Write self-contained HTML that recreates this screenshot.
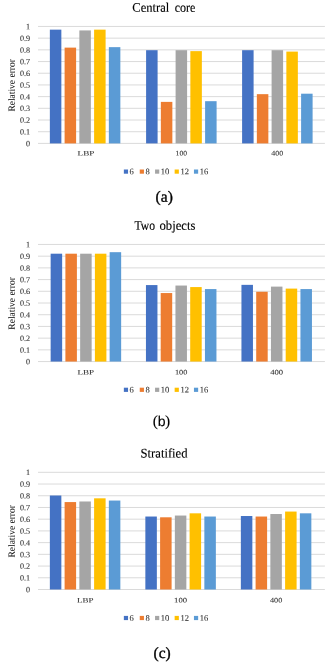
<!DOCTYPE html>
<html><head><meta charset="utf-8"><title>Relative error charts</title>
<style>
html,body{margin:0;padding:0;background:#fff;}
svg{display:block;font-family:"Liberation Serif","DejaVu Serif",serif;}
.t{font-size:12.4px;fill:#000;stroke:#000;stroke-width:0.12px;}
.c{font-size:15.5px;fill:#000;stroke:#000;stroke-width:0.35px;text-anchor:middle;}
.c2{stroke-width:0.12px;}
.cb{font-family:"Liberation Sans","DejaVu Sans",sans-serif;font-size:14px;stroke-width:0.1px;}
.y{font-size:8.1px;fill:#2e2e2e;stroke:#2e2e2e;stroke-width:0.08px;text-anchor:end;}
.x{font-size:7px;fill:#303030;stroke:#303030;stroke-width:0.07px;text-anchor:middle;}
.l{font-size:8.5px;fill:#303030;stroke:#303030;stroke-width:0.08px;}
.a{font-size:9.5px;fill:#000;text-anchor:middle;}
.g{stroke:#d6d6d6;stroke-width:0.9;}
</style></head><body>
<svg width="336" height="669" viewBox="0 0 336 669">
<rect width="336" height="669" fill="#fff"/>
<text class="t" transform="translate(132.30,11.70) rotate(0.05) scale(1.015,1.06)">Central</text>
<text class="t" transform="translate(174.70,11.70) rotate(0.05) scale(0.97,1.06)">core</text>
<line class="g" x1="38" x2="324.9" y1="143.40" y2="143.40"/>
<text class="y" transform="translate(30.00,146.20) rotate(0.05)">0</text>
<line class="g" x1="38" x2="324.9" y1="131.71" y2="131.71"/>
<text class="y" transform="translate(30.00,134.51) rotate(0.05)">0.1</text>
<line class="g" x1="38" x2="324.9" y1="120.01" y2="120.01"/>
<text class="y" transform="translate(30.00,122.81) rotate(0.05)">0.2</text>
<line class="g" x1="38" x2="324.9" y1="108.31" y2="108.31"/>
<text class="y" transform="translate(30.00,111.11) rotate(0.05)">0.3</text>
<line class="g" x1="38" x2="324.9" y1="96.62" y2="96.62"/>
<text class="y" transform="translate(30.00,99.42) rotate(0.05)">0.4</text>
<line class="g" x1="38" x2="324.9" y1="84.93" y2="84.93"/>
<text class="y" transform="translate(30.00,87.73) rotate(0.05)">0.5</text>
<line class="g" x1="38" x2="324.9" y1="73.23" y2="73.23"/>
<text class="y" transform="translate(30.00,76.03) rotate(0.05)">0.6</text>
<line class="g" x1="38" x2="324.9" y1="61.54" y2="61.54"/>
<text class="y" transform="translate(30.00,64.34) rotate(0.05)">0.7</text>
<line class="g" x1="38" x2="324.9" y1="49.84" y2="49.84"/>
<text class="y" transform="translate(30.00,52.64) rotate(0.05)">0.8</text>
<line class="g" x1="38" x2="324.9" y1="38.15" y2="38.15"/>
<text class="y" transform="translate(30.00,40.95) rotate(0.05)">0.9</text>
<line class="g" x1="38" x2="324.9" y1="26.45" y2="26.45"/>
<text class="y" transform="translate(30.00,29.25) rotate(0.05)">1</text>
<text class="a" transform="translate(14.80,85.33) rotate(-89.95)">Relative error</text>
<rect x="49.85" y="29.65" width="11.5" height="113.75" fill="#4472C4"/>
<rect x="64.60" y="47.62" width="11.5" height="95.78" fill="#ED7D31"/>
<rect x="79.35" y="30.43" width="11.5" height="112.97" fill="#A5A5A5"/>
<rect x="94.10" y="29.65" width="11.5" height="113.75" fill="#FFC000"/>
<rect x="108.85" y="47.15" width="11.5" height="96.25" fill="#5B9BD5"/>
<text class="x" transform="translate(85.93,155.60) rotate(0.05) scale(1.3,1)">LBP</text>
<rect x="146.10" y="50.19" width="11.5" height="93.21" fill="#4472C4"/>
<rect x="160.85" y="101.88" width="11.5" height="41.52" fill="#ED7D31"/>
<rect x="175.60" y="50.19" width="11.5" height="93.21" fill="#A5A5A5"/>
<rect x="190.35" y="51.13" width="11.5" height="92.27" fill="#FFC000"/>
<rect x="205.10" y="101.18" width="11.5" height="42.22" fill="#5B9BD5"/>
<text class="x" transform="translate(181.35,155.60) rotate(0.05) scale(1.1,1)">100</text>
<rect x="242.10" y="50.19" width="11.5" height="93.21" fill="#4472C4"/>
<rect x="256.85" y="94.16" width="11.5" height="49.24" fill="#ED7D31"/>
<rect x="271.60" y="50.19" width="11.5" height="93.21" fill="#A5A5A5"/>
<rect x="286.35" y="51.59" width="11.5" height="91.81" fill="#FFC000"/>
<rect x="301.10" y="93.70" width="11.5" height="49.70" fill="#5B9BD5"/>
<text class="x" transform="translate(277.35,155.60) rotate(0.05) scale(1.15,1)">400</text>
<rect x="123.85" y="169.50" width="4.2" height="4.2" fill="#4472C4"/>
<text class="l" transform="translate(129.60,174.35) rotate(0.05)">6</text>
<rect x="139.75" y="169.50" width="4.2" height="4.2" fill="#ED7D31"/>
<text class="l" transform="translate(145.50,174.35) rotate(0.05)">8</text>
<rect x="155.05" y="169.50" width="4.2" height="4.2" fill="#A5A5A5"/>
<text class="l" transform="translate(160.80,174.35) rotate(0.05)">10</text>
<rect x="174.65" y="169.50" width="4.2" height="4.2" fill="#FFC000"/>
<text class="l" transform="translate(180.40,174.35) rotate(0.05)">12</text>
<rect x="193.95" y="169.50" width="4.2" height="4.2" fill="#5B9BD5"/>
<text class="l" transform="translate(199.70,174.35) rotate(0.05)">16</text>
<text class="c" transform="translate(164.20,201.70) rotate(0.05)">(a)</text>
<text class="t" transform="translate(134.60,229.80) rotate(0.05) scale(0.935,1.06)">Two</text>
<text class="t" transform="translate(159.45,229.80) rotate(0.05) scale(1.024,1.06)">objects</text>
<line class="g" x1="38" x2="324.9" y1="361.55" y2="361.55"/>
<text class="y" transform="translate(30.00,364.35) rotate(0.05)">0</text>
<line class="g" x1="38" x2="324.9" y1="349.84" y2="349.84"/>
<text class="y" transform="translate(30.00,352.64) rotate(0.05)">0.1</text>
<line class="g" x1="38" x2="324.9" y1="338.13" y2="338.13"/>
<text class="y" transform="translate(30.00,340.93) rotate(0.05)">0.2</text>
<line class="g" x1="38" x2="324.9" y1="326.42" y2="326.42"/>
<text class="y" transform="translate(30.00,329.22) rotate(0.05)">0.3</text>
<line class="g" x1="38" x2="324.9" y1="314.71" y2="314.71"/>
<text class="y" transform="translate(30.00,317.51) rotate(0.05)">0.4</text>
<line class="g" x1="38" x2="324.9" y1="303.00" y2="303.00"/>
<text class="y" transform="translate(30.00,305.80) rotate(0.05)">0.5</text>
<line class="g" x1="38" x2="324.9" y1="291.29" y2="291.29"/>
<text class="y" transform="translate(30.00,294.09) rotate(0.05)">0.6</text>
<line class="g" x1="38" x2="324.9" y1="279.58" y2="279.58"/>
<text class="y" transform="translate(30.00,282.38) rotate(0.05)">0.7</text>
<line class="g" x1="38" x2="324.9" y1="267.87" y2="267.87"/>
<text class="y" transform="translate(30.00,270.67) rotate(0.05)">0.8</text>
<line class="g" x1="38" x2="324.9" y1="256.16" y2="256.16"/>
<text class="y" transform="translate(30.00,258.96) rotate(0.05)">0.9</text>
<line class="g" x1="38" x2="324.9" y1="244.45" y2="244.45"/>
<text class="y" transform="translate(30.00,247.25) rotate(0.05)">1</text>
<text class="a" transform="translate(14.80,303.40) rotate(-89.95)">Relative error</text>
<rect x="50.65" y="253.70" width="11.5" height="107.85" fill="#4472C4"/>
<rect x="65.40" y="253.70" width="11.5" height="107.85" fill="#ED7D31"/>
<rect x="80.15" y="253.70" width="11.5" height="107.85" fill="#A5A5A5"/>
<rect x="94.90" y="253.70" width="11.5" height="107.85" fill="#FFC000"/>
<rect x="109.65" y="252.18" width="11.5" height="109.37" fill="#5B9BD5"/>
<text class="x" transform="translate(85.80,374.50) rotate(0.05) scale(1.29,1)">LBP</text>
<rect x="145.95" y="285.08" width="11.5" height="76.47" fill="#4472C4"/>
<rect x="160.70" y="293.05" width="11.5" height="68.50" fill="#ED7D31"/>
<rect x="175.45" y="285.55" width="11.5" height="76.00" fill="#A5A5A5"/>
<rect x="190.20" y="287.07" width="11.5" height="74.48" fill="#FFC000"/>
<rect x="204.95" y="289.07" width="11.5" height="72.48" fill="#5B9BD5"/>
<text class="x" transform="translate(181.20,374.50) rotate(0.05) scale(1.19,1)">100</text>
<rect x="241.45" y="284.85" width="11.5" height="76.70" fill="#4472C4"/>
<rect x="256.20" y="291.76" width="11.5" height="69.79" fill="#ED7D31"/>
<rect x="270.95" y="286.61" width="11.5" height="74.94" fill="#A5A5A5"/>
<rect x="285.70" y="288.60" width="11.5" height="72.95" fill="#FFC000"/>
<rect x="300.45" y="289.07" width="11.5" height="72.48" fill="#5B9BD5"/>
<text class="x" transform="translate(276.70,374.50) rotate(0.05) scale(1.24,1)">400</text>
<rect x="123.85" y="387.70" width="4.2" height="4.2" fill="#4472C4"/>
<text class="l" transform="translate(129.60,392.55) rotate(0.05)">6</text>
<rect x="139.75" y="387.70" width="4.2" height="4.2" fill="#ED7D31"/>
<text class="l" transform="translate(145.50,392.55) rotate(0.05)">8</text>
<rect x="155.05" y="387.70" width="4.2" height="4.2" fill="#A5A5A5"/>
<text class="l" transform="translate(160.80,392.55) rotate(0.05)">10</text>
<rect x="174.65" y="387.70" width="4.2" height="4.2" fill="#FFC000"/>
<text class="l" transform="translate(180.40,392.55) rotate(0.05)">12</text>
<rect x="193.95" y="387.70" width="4.2" height="4.2" fill="#5B9BD5"/>
<text class="l" transform="translate(199.70,392.55) rotate(0.05)">16</text>
<text class="c c2" transform="translate(161.40,425.90) rotate(0.05)">(<tspan class="cb">b</tspan><tspan dx="-0.65">)</tspan></text>
<text class="t" transform="translate(140.56,457.40) rotate(0.05) scale(1.019,1.06)">Stratified</text>
<line class="g" x1="38" x2="324.9" y1="589.50" y2="589.50"/>
<text class="y" transform="translate(30.00,592.30) rotate(0.05)">0</text>
<line class="g" x1="38" x2="324.9" y1="577.78" y2="577.78"/>
<text class="y" transform="translate(30.00,580.58) rotate(0.05)">0.1</text>
<line class="g" x1="38" x2="324.9" y1="566.06" y2="566.06"/>
<text class="y" transform="translate(30.00,568.86) rotate(0.05)">0.2</text>
<line class="g" x1="38" x2="324.9" y1="554.34" y2="554.34"/>
<text class="y" transform="translate(30.00,557.14) rotate(0.05)">0.3</text>
<line class="g" x1="38" x2="324.9" y1="542.62" y2="542.62"/>
<text class="y" transform="translate(30.00,545.42) rotate(0.05)">0.4</text>
<line class="g" x1="38" x2="324.9" y1="530.90" y2="530.90"/>
<text class="y" transform="translate(30.00,533.70) rotate(0.05)">0.5</text>
<line class="g" x1="38" x2="324.9" y1="519.18" y2="519.18"/>
<text class="y" transform="translate(30.00,521.98) rotate(0.05)">0.6</text>
<line class="g" x1="38" x2="324.9" y1="507.46" y2="507.46"/>
<text class="y" transform="translate(30.00,510.26) rotate(0.05)">0.7</text>
<line class="g" x1="38" x2="324.9" y1="495.74" y2="495.74"/>
<text class="y" transform="translate(30.00,498.54) rotate(0.05)">0.8</text>
<line class="g" x1="38" x2="324.9" y1="484.02" y2="484.02"/>
<text class="y" transform="translate(30.00,486.82) rotate(0.05)">0.9</text>
<line class="g" x1="38" x2="324.9" y1="472.30" y2="472.30"/>
<text class="y" transform="translate(30.00,475.10) rotate(0.05)">1</text>
<text class="a" transform="translate(14.80,531.30) rotate(-89.95)">Relative error</text>
<rect x="49.85" y="495.51" width="11.5" height="93.99" fill="#4472C4"/>
<rect x="64.60" y="502.07" width="11.5" height="87.43" fill="#ED7D31"/>
<rect x="79.35" y="501.48" width="11.5" height="88.02" fill="#A5A5A5"/>
<rect x="94.10" y="498.32" width="11.5" height="91.18" fill="#FFC000"/>
<rect x="108.85" y="500.55" width="11.5" height="88.95" fill="#5B9BD5"/>
<text class="x" transform="translate(85.20,602.40) rotate(0.05) scale(1.28,1)">LBP</text>
<rect x="145.35" y="516.53" width="11.5" height="72.97" fill="#4472C4"/>
<rect x="160.10" y="517.30" width="11.5" height="72.20" fill="#ED7D31"/>
<rect x="174.85" y="515.55" width="11.5" height="73.95" fill="#A5A5A5"/>
<rect x="189.60" y="513.32" width="11.5" height="76.18" fill="#FFC000"/>
<rect x="204.35" y="516.53" width="11.5" height="72.97" fill="#5B9BD5"/>
<text class="x" transform="translate(180.60,602.40) rotate(0.05) scale(1.25,1)">100</text>
<rect x="240.85" y="516.02" width="11.5" height="73.48" fill="#4472C4"/>
<rect x="255.60" y="516.53" width="11.5" height="72.97" fill="#ED7D31"/>
<rect x="270.35" y="514.02" width="11.5" height="75.48" fill="#A5A5A5"/>
<rect x="285.10" y="511.56" width="11.5" height="77.94" fill="#FFC000"/>
<rect x="299.85" y="513.32" width="11.5" height="76.18" fill="#5B9BD5"/>
<text class="x" transform="translate(276.10,602.40) rotate(0.05) scale(1.18,1)">400</text>
<rect x="123.85" y="615.90" width="4.2" height="4.2" fill="#4472C4"/>
<text class="l" transform="translate(129.60,620.75) rotate(0.05)">6</text>
<rect x="139.75" y="615.90" width="4.2" height="4.2" fill="#ED7D31"/>
<text class="l" transform="translate(145.50,620.75) rotate(0.05)">8</text>
<rect x="155.05" y="615.90" width="4.2" height="4.2" fill="#A5A5A5"/>
<text class="l" transform="translate(160.80,620.75) rotate(0.05)">10</text>
<rect x="174.65" y="615.90" width="4.2" height="4.2" fill="#FFC000"/>
<text class="l" transform="translate(180.40,620.75) rotate(0.05)">12</text>
<rect x="193.95" y="615.90" width="4.2" height="4.2" fill="#5B9BD5"/>
<text class="l" transform="translate(199.70,620.75) rotate(0.05)">16</text>
<text class="c" transform="translate(162.10,657.90) rotate(0.05)">(c)</text>
</svg></body></html>
